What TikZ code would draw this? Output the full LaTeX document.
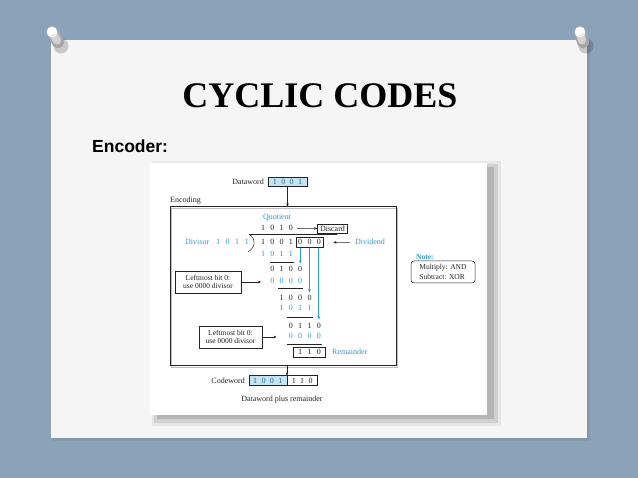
\documentclass[tikz,border=0pt]{standalone}
\usepackage{fontspec}
\setmainfont{Liberation Serif}
\newfontfamily\sansf{Liberation Sans}
\usetikzlibrary{arrows.meta,fit,shadows}
\definecolor{bgblue}{RGB}{139,163,184}
\definecolor{cardw}{RGB}{245,245,245}
\definecolor{cblue}{RGB}{40,155,212}
\definecolor{boxfill}{RGB}{196,228,244}
\definecolor{ink}{RGB}{35,35,35}
\newcommand\dsp{\hspace{4.4pt}}
\newcommand\digitrow[5]{%
  \foreach \dd [count=\ii from 0] in {#5} {
    \node[dig,#4] (#1\ii) at ({263+9.3*(#2+\ii)},#3) {\dd};
  }}
\begin{document}
\begin{tikzpicture}[x=1pt,y=-1pt,
  txt/.style={font=\fontsize{8}{9}\selectfont,inner sep=0pt,text=ink},
  dig/.style={txt,anchor=base},
  bl/.style={text=cblue},
  arr/.style={-{Stealth[length=3.2pt,width=2.6pt]},line width=0.5pt,draw=ink},
  barr/.style={-{Stealth[length=3.4pt,width=2.8pt]},line width=0.85pt,draw=cblue,fill=cblue},
  barline/.style={line width=0.5pt,draw=ink},
  bitbox/.style={draw=ink,line width=0.5pt,inner sep=0pt,font=\fontsize{8}{9}\selectfont,minimum height=9.5pt},
  sidebox/.style={draw=ink,line width=0.5pt,align=center,inner sep=1pt,font=\fontsize{7.5}{8.6}\selectfont,text=ink,minimum width=64pt,minimum height=22pt}
]
\useasboundingbox (0,0) rectangle (638,478);
% background and card
\fill[bgblue] (0,0) rectangle (638,478);
\fill[black,opacity=0.06] (53,43) rectangle (590,441);
\fill[cardw] (51,40) rectangle (587,438);
% pins
\foreach \hx/\hy/\bx/\by in {52/32/58/42, 580/32/583/42} {
  \fill[black,opacity=0.18] (\bx+3,\by+4) circle (7.5);
  \draw[line width=12pt,line cap=round,gray!70] (\hx,\hy) -- (\bx,\by);
  \draw[line width=8pt,line cap=round,gray!35] (\hx,\hy) -- (\bx-1,\by-1.5);
  \fill[white] (\hx,\hy) circle (5.4);
  \fill[gray!20] (\hx+1,\hy+1.5) circle (2.6);
  \fill[white] (\hx-0.5,\hy-0.5) circle (3.2);
}
% title
\node[anchor=base,inner sep=0pt,font=\fontsize{36}{40}\selectfont\bfseries,text=black] (title) at (320,108) {CYCLIC CODES};
\node[anchor=base west,inner sep=0pt,font=\sansf\bfseries\fontsize{17.5}{20}\selectfont,text=black] (enc_label) at (92,153) {Encoder:};
% embedded figure with shadow
\fill[black,opacity=0.06] (152,161) rectangle (501,426);
\fill[black,opacity=0.09] (154,164) rectangle (498,423);
\fill[black,opacity=0.13] (157,167) rectangle (494,419);
\fill[white] (150,163) rectangle (487,415);
% dataword
\node[txt,anchor=base east] (dwlab) at (264,185) {Dataword};
\node[bitbox,fill=boxfill,text=cblue!70!black,minimum width=39pt] (dw) at (287.5,182) {1\dsp0\dsp0\dsp1};
% encoding box
\node[txt,anchor=base west] (encoding) at (170,203) {Encoding};
\draw[gray!50,line width=1.2pt] (171.5,208.5) rectangle (397.5,367.5);
\node[draw=ink,line width=1pt,minimum width=226pt,minimum height=159pt,inner sep=0pt] (enc) at (283,286.5) {};
\draw[arr] (dw.south) -- (dw.south |- enc.north);
% quotient
\node[txt,bl,anchor=base] (quot) at (277,220) {Quotient};
\digitrow{q}{0}{231}{}{1,0,1,0}
\node[txt,draw=ink,line width=0.5pt,inner xsep=2.5pt,inner ysep=1.5pt] (discard) at (332.5,228.5) {Discard};
\draw[arr] ([xshift=4pt]q3.east) -- (discard.west);
% divisor and dividend
\node[txt,bl,anchor=base west] (divisor) at (185,245) {Divisor};
\foreach \dd [count=\ii from 0] in {1,0,1,1} {
  \node[dig,bl] (dvs\ii) at ({218+9.6*\ii},245) {\dd};
}
\draw[barline] (249,234) -- (337,234);
\draw[barline] (249,234) .. controls (256,239) and (256,247) .. (248,252);
\digitrow{dv}{0}{245}{}{1,0,0,1,0,0,0}
\node[draw=ink,line width=0.5pt,inner xsep=2pt,inner ysep=2pt,fit=(dv4)(dv6)] (dvbox) {};
\node[txt,bl,anchor=base west] (dividend) at (355,245) {Dividend};
\draw[arr] ([xshift=-5pt]dividend.west) -- ([xshift=10pt]dvbox.east);
% long division rows
\digitrow{ra}{0}{257}{bl}{1,0,1,1}
\draw[barline] (270,262) -- (294,262);
\digitrow{rb}{1}{272}{}{0,1,0,0}
\digitrow{rc}{1}{284}{bl}{0,0,0,0}
\draw[barline] (278,288.5) -- (303,288.5);
\digitrow{rd}{2}{301}{}{1,0,0,0}
\digitrow{re}{2}{311}{bl}{1,0,1,1}
\draw[barline] (287,317) -- (313,317);
\digitrow{rf}{3}{329}{}{0,1,1,0}
\digitrow{rg}{3}{339}{bl}{0,0,0,0}
\draw[barline] (287,344) -- (322,344);
\digitrow{rm}{4}{355}{}{1,1,0}
\node[draw=ink,line width=0.5pt,inner xsep=4.5pt,inner ysep=2pt,fit=(rm0)(rm2)] (rembox) {};
\node[txt,bl,anchor=base west] (remainder) at (332,355) {Remainder};
% bring-down arrows
\draw[barr] (dv4 |- dvbox.south) -- ([yshift=3pt]rb3.north);
\draw[barr] (dv5 |- dvbox.south) -- ([yshift=3pt]rd3.north);
\draw[barr] (dv6 |- dvbox.south) -- ([yshift=4pt]rf3.north);
% side boxes
\node[sidebox,minimum width=66pt] (lb1) at (208,282) {Leftmost bit 0:\\use 0000 divisor};
\draw[arr] (lb1.east) -- ([xshift=-9pt]rc0.west |- lb1.east);
\node[sidebox,minimum width=63pt] (lb2) at (230.5,337) {Leftmost bit 0:\\use 0000 divisor};
\draw[arr] (lb2.east) -- ([xshift=-12pt]rg0.west |- lb2.east);
% note
\node[txt,bl,anchor=base west,font=\fontsize{7.5}{9}\selectfont\bfseries] (notelab) at (416,259.5) {Note:};
\node[draw=ink,line width=0.5pt,rounded corners=3pt,align=left,inner xsep=3pt,inner ysep=1.5pt,font=\fontsize{7.5}{9.5}\selectfont,text=ink,minimum width=64pt,minimum height=22pt] (note) at (443,272) {Multiply: AND\\Subtract: XOR};
% codeword
\node[bitbox,fill=boxfill,text=cblue!70!black,minimum width=38pt,anchor=east] (cw1) at (287,380.5) {1\dsp0\dsp0\dsp1};
\node[bitbox,minimum width=30pt,anchor=west,text=ink] (cw2) at (287,380.5) {1\dsp1\dsp0};
\node[txt,anchor=base east] (cwlab) at (245,384) {Codeword};
\draw[arr] (cw1.north east |- enc.south) -- (cw1.north east);
\node[txt,anchor=base] (dpr) at (282,402) {Dataword plus remainder};
\end{tikzpicture}
\end{document}
